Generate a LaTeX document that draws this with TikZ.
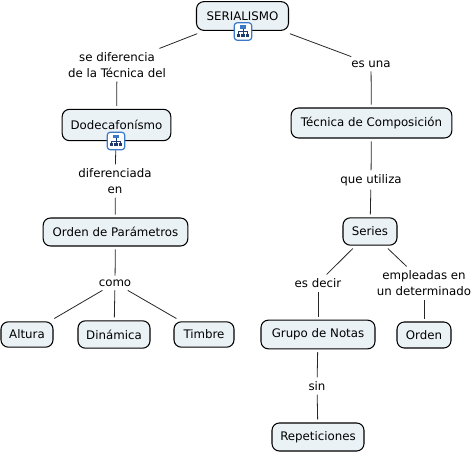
\documentclass[tikz,border=0pt]{standalone}
\usepackage{fontspec}
\setmainfont{DejaVu Sans}
\definecolor{cbox}{HTML}{EBF2F5}
\definecolor{cicon}{HTML}{3C78C8}
\definecolor{cglyph}{HTML}{1F3A6E}
\tikzstyle{concept}=[rectangle,rounded corners=5.5pt,draw=black,line width=0.8pt,fill=cbox,inner sep=0pt,outer sep=2.5pt,font=\fontsize{8.85}{10.5}\selectfont]
\tikzstyle{link}=[align=center,inner sep=1pt,outer sep=2pt,font=\fontsize{8.85}{12}\selectfont]
\tikzstyle{icon}=[rectangle,rounded corners=2pt,draw=cicon,line width=0.9pt,fill=white,minimum size=13pt,inner sep=0pt]
\tikzstyle{cmap}=[line width=0.6pt,draw=black!85]
\newcommand{\hiericon}[1]{
\fill[cicon] ([shift={(-2pt,-4.8pt)}]#1.north) rectangle ([shift={(2pt,-2.3pt)}]#1.north);
\draw[cglyph,line width=0.5pt] ([yshift=-4.8pt]#1.north)--([yshift=-8.5pt]#1.north);
\draw[cglyph,line width=0.5pt] ([shift={(-3.2pt,-8.5pt)}]#1.north)--([shift={(-3.2pt,-7pt)}]#1.north)--([shift={(3.2pt,-7pt)}]#1.north)--([shift={(3.2pt,-8.5pt)}]#1.north);
\fill[cglyph] ([shift={(-4.4pt,-11pt)}]#1.north) rectangle ([shift={(-2pt,-8.5pt)}]#1.north);
\fill[cglyph] ([shift={(-1.2pt,-11pt)}]#1.north) rectangle ([shift={(1.2pt,-8.5pt)}]#1.north);
\fill[cglyph] ([shift={(2pt,-11pt)}]#1.north) rectangle ([shift={(4.4pt,-8.5pt)}]#1.north);
}
\begin{document}
\begin{tikzpicture}[x=0.75pt,y=-0.75pt]
\useasboundingbox (0,0) rectangle (475,452);
\node[concept,minimum width=69pt,minimum height=21.5pt] (SER) at (242.5,16) {SERIALISMO};
\node[concept,minimum width=81.5pt,minimum height=23.5pt] (DOD) at (116.5,125) {Dodecafonísmo};
\node[concept,minimum width=120.5pt,minimum height=22.5pt] (TEC) at (371.5,123) {Técnica de Composición};
\node[concept,minimum width=108.5pt,minimum height=21pt] (PAR) at (115.5,232) {Orden de Parámetros};
\node[concept,minimum width=40.5pt,minimum height=20.5pt] (SRS) at (370,231.5) {Series};
\node[concept,minimum width=39pt,minimum height=19pt] (ALT) at (27,334.5) {Altura};
\node[concept,minimum width=54pt,minimum height=20.5pt] (DIN) at (114,334.5) {Dinámica};
\node[concept,minimum width=45pt,minimum height=19pt] (TIM) at (204,334.5) {Timbre};
\node[concept,minimum width=85.5pt,minimum height=21.5pt] (GRU) at (318,334.5) {Grupo de Notas};
\node[concept,minimum width=40.5pt,minimum height=19.5pt] (ORD) at (424,335) {Orden};
\node[concept,minimum width=69pt,minimum height=21pt] (REP) at (318,437) {Repeticiones};
\node[link] (l1) at (117,65) {se diferencia\\de la Técnica del};
\node[link] (l2) at (371,64) {es una};
\node[link] (l3) at (115,181) {diferenciada\\en};
\node[link] (l4) at (371,180) {que utiliza};
\node[link] (l5) at (115,283) {como};
\node[link] (l6) at (318,283) {es decir};
\node[link] (l7) at (424,283) {empleadas en\\un determinado};
\node[link] (l8) at (317,386) {sin};
\node[icon] (i1) at (243,31.5) {};
\node[icon] (i2) at (116,141) {};
\hiericon{i1}
\hiericon{i2}
\draw[cmap](SER)--(l1);\draw[cmap](SER)--(l2);
\draw[cmap](l1)--(DOD);\draw[cmap](l2)--(TEC);
\draw[cmap](i2)--(l3);\draw[cmap](l3)--(PAR);
\draw[cmap](TEC)--(l4);\draw[cmap](l4)--(SRS);
\draw[cmap](PAR)--(l5);
\draw[cmap](l5)--(ALT);\draw[cmap](l5)--(DIN);\draw[cmap](l5)--(TIM);
\draw[cmap](SRS)--(l6);\draw[cmap](SRS)--(l7);
\draw[cmap](l6)--(GRU);\draw[cmap](l7)--(ORD);
\draw[cmap](GRU)--(l8);\draw[cmap](l8)--(REP);
\end{tikzpicture}
\end{document}
